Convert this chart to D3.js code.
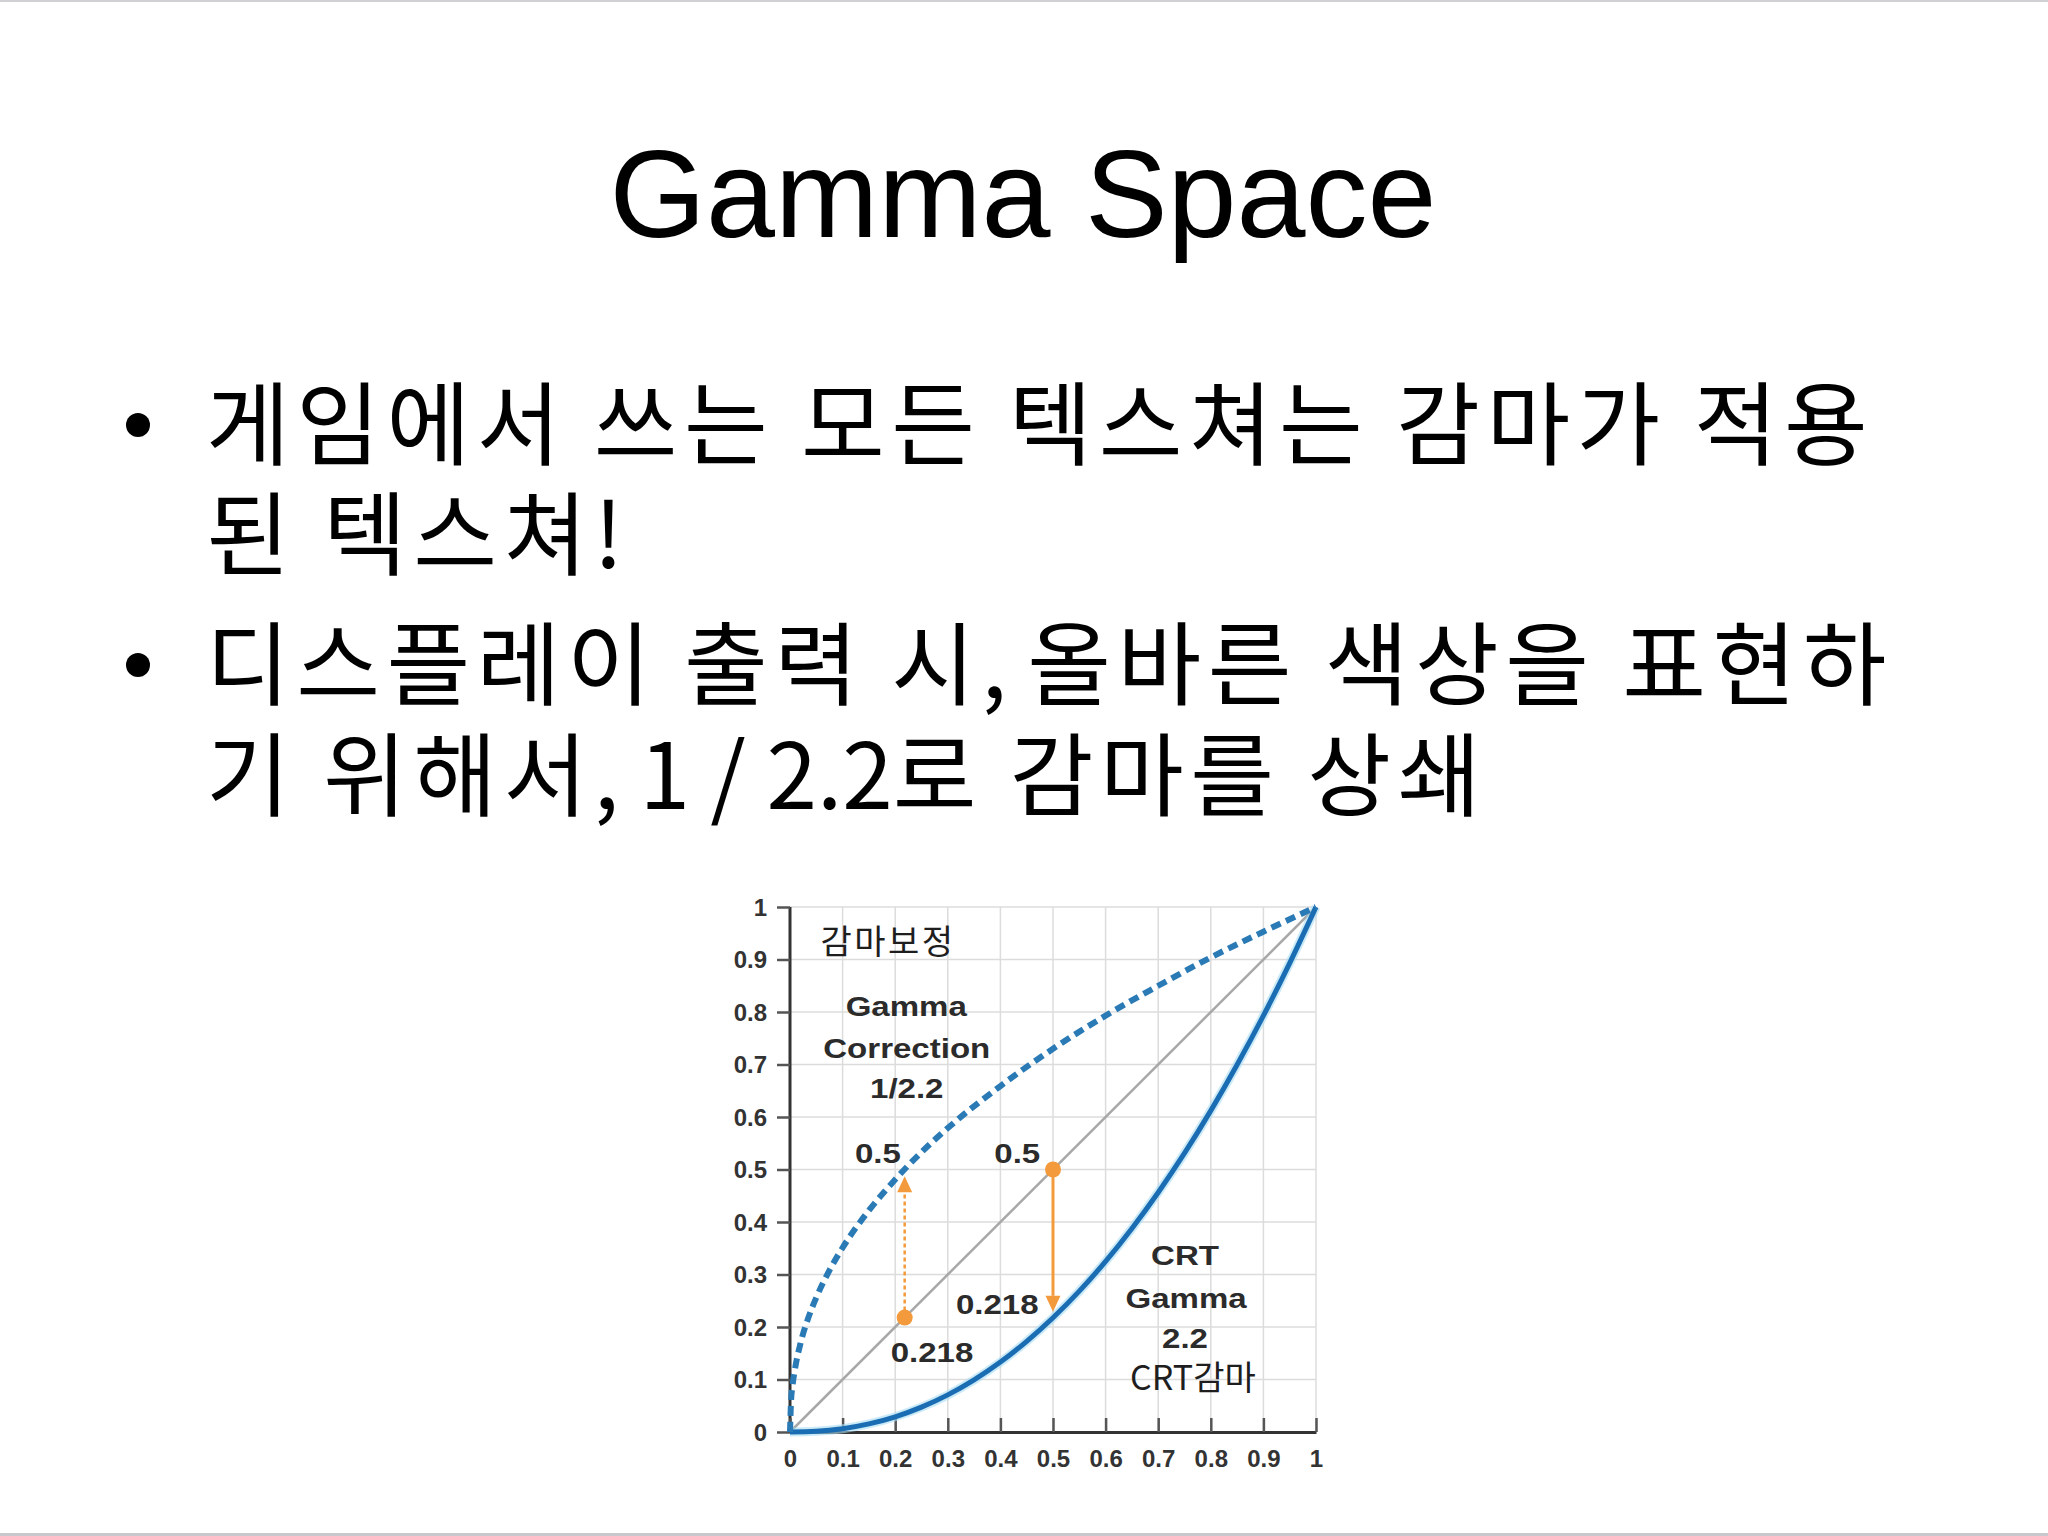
<!DOCTYPE html>
<html>
<head>
<meta charset="utf-8">
<script src="https://cdn.jsdelivr.net/npm/d3@7"></script>
<style>
  body { margin: 0; background: #fff; }
  svg { display: block; }
</style>
</head>
<body>
<svg id="slide" width="2048" height="1536"></svg>
<script>
// 슬라이드 텍스트
let titleText = 'Gamma Space';
let bulletLines = [
    ['게임에서 쓰는 모든 텍스쳐는 감마가 적용', '된 텍스쳐!'],
    ['디스플레이 출력 시, 올바른 색상을 표현하', '기 위해서, 1 / 2.2로 감마를 상쇄']
];

// 축 눈금
let tickValues = [0, 0.1, 0.2, 0.3, 0.4, 0.5, 0.6, 0.7, 0.8, 0.9, 1];
let tickLabels = ['0', '0.1', '0.2', '0.3', '0.4', '0.5', '0.6', '0.7', '0.8', '0.9', '1'];

// CRT 감마 곡선 (실선)
let crtX = [0, 0.05, 0.1, 0.15, 0.2, 0.25, 0.3, 0.35, 0.4, 0.45, 0.5, 0.55, 0.6, 0.65, 0.7, 0.75, 0.8, 0.85, 0.9, 0.95, 1];
let crtY = [0, 0.0014, 0.0063, 0.0154, 0.029, 0.0474, 0.0707, 0.0993, 0.1332, 0.1727, 0.2176, 0.2683, 0.325, 0.3878, 0.4563, 0.531, 0.6121, 0.6995, 0.793, 0.8932, 1];

// 감마 보정 곡선 (점선)
let corrX = [0, 0.002, 0.005, 0.01, 0.02, 0.035, 0.05, 0.075, 0.1, 0.15, 0.2, 0.25, 0.3, 0.4, 0.5, 0.6, 0.7, 0.8, 0.9, 1];
let corrY = [0, 0.059, 0.09, 0.123, 0.169, 0.218, 0.256, 0.308, 0.351, 0.422, 0.481, 0.533, 0.579, 0.659, 0.73, 0.793, 0.85, 0.904, 0.953, 1];

// 선형 기준선
let linearX = [0, 1];
let linearY = [0, 1];

// 주황색 점과 화살표
let dotX = [0.218, 0.5];
let dotY = [0.218, 0.5];
let arrowX = [0.218, 0.5];
let arrowFrom = [0.218, 0.5];
let arrowTo = [0.487, 0.229];
let arrowDashed = [true, false];

// 그래프 안의 라벨
let boldLabels = ['Gamma', 'Correction', '1/2.2', '0.5', '0.5', '0.218', '0.218', 'CRT', 'Gamma', '2.2'];
let boldLabelX = [0.221, 0.222, 0.222, 0.167, 0.432, 0.394, 0.27, 0.751, 0.753, 0.751];
let boldLabelY = [0.792, 0.712, 0.636, 0.512, 0.512, 0.225, 0.133, 0.318, 0.236, 0.16];
let koLabels = ['감마보정', 'CRT감마'];
let koLabelX = [0.058, 0.766];
let koLabelY = [0.91, 0.08];
let koLabelAnchor = ['start', 'middle'];

let svg = d3.select('#slide');

// 위아래 회색 테두리
svg.append('rect').attr('x', 0).attr('y', 0).attr('width', 2048).attr('height', 2).attr('fill', '#d0d0d4');
svg.append('rect').attr('x', 0).attr('y', 1533).attr('width', 2048).attr('height', 3).attr('fill', '#c8c8cc');

// 제목
svg.append('text')
    .attr('x', 1023)
    .attr('y', 237)
    .attr('text-anchor', 'middle')
    .attr('font-family', 'Liberation Sans, Arial, sans-serif')
    .attr('font-size', 124)
    .attr('fill', '#000')
    .text(titleText);

// 글머리 기호와 본문
// 한글 구간만 자간을 넓히고 숫자/문장부호 구간은 그대로 둔다
function splitRuns(s) {
    return s.split(/([,!\/0-9.][,!\/0-9. ]*)/).filter(d => d.length > 0);
}
let lineBase = [[458, 568], [698, 809]];
let body = svg.append('g');
bulletLines.forEach((lines, i) => {
    body.append('circle')
        .attr('cx', 138)
        .attr('cy', lineBase[i][0] - 33)
        .attr('r', 12)
        .attr('fill', '#000');
    let texts = body.selectAll(null).data(lines).enter()
        .append('text')
        .attr('x', 206)
        .attr('y', (d, j) => lineBase[i][j])
        .attr('font-family', 'Noto Sans CJK KR, sans-serif')
        .attr('font-size', 91)
        .attr('fill', '#000');
    texts.selectAll('tspan').data(d => splitRuns(d)).enter()
        .append('tspan')
        .attr('letter-spacing', d => /[가-힣]/.test(d) ? 6.5 : 0)
        .text(d => d);
});

// 그래프 영역
let x = d3.scaleLinear().domain([0, 1]).range([790, 1316]);
let y = d3.scaleLinear().domain([0, 1]).range([1432, 907]);
let chart = svg.append('g');

// 격자
chart.append('g').selectAll('line').data(tickValues.slice(1)).enter()
    .append('line')
    .attr('x1', d => x(d)).attr('x2', d => x(d))
    .attr('y1', y(0)).attr('y2', y(1))
    .attr('stroke', '#dcdcdc')
    .attr('stroke-width', 1.5);
chart.append('g').selectAll('line').data(tickValues.slice(1)).enter()
    .append('line')
    .attr('x1', x(0)).attr('x2', x(1))
    .attr('y1', d => y(d)).attr('y2', d => y(d))
    .attr('stroke', '#dcdcdc')
    .attr('stroke-width', 1.5);

// 축
let yAxis = d3.axisLeft(y).tickValues(tickValues).tickFormat((d, i) => tickLabels[i]).tickSize(13).tickPadding(10);
let xAxis = d3.axisBottom(x).tickValues(tickValues).tickFormat((d, i) => tickLabels[i]).tickSizeInner(-14).tickSizeOuter(0).tickPadding(28);

let gy = chart.append('g').attr('transform', `translate(${x(0)},0)`).call(yAxis);
let gx = chart.append('g').attr('transform', `translate(0,${y(0)})`).call(xAxis);
[gx, gy].forEach(g => {
    g.select('.domain').attr('stroke', '#333').attr('stroke-width', 3);
    g.selectAll('.tick line').attr('stroke', '#555').attr('stroke-width', 2.5);
    g.selectAll('.tick text')
        .attr('font-family', 'Liberation Sans, Arial, sans-serif')
        .attr('font-weight', 'bold')
        .attr('font-size', 24)
        .attr('fill', '#333');
});
gy.select('.domain').attr('d', `M0,${y(1)}H0V${y(0)}`);
gy.selectAll('.tick text').attr('dy', '0.34em');
gx.selectAll('.tick text').attr('dy', '0.3em');

// 곡선
let line = d3.line()
    .x(d => x(d[0]))
    .y(d => y(d[1]))
    .curve(d3.curveMonotoneX);

chart.append('path')
    .attr('d', line(d3.zip(linearX, linearY)))
    .attr('fill', 'none')
    .attr('stroke', '#a8a8a8')
    .attr('stroke-width', 2.5);

let crtData = d3.zip(crtX, crtY);
let corrData = d3.zip(corrX, corrY);

chart.append('path')
    .attr('d', line(crtData))
    .attr('fill', 'none')
    .attr('stroke', '#a9dcf4')
    .attr('stroke-width', 9)
    .attr('opacity', 0.6);
chart.append('path')
    .attr('d', line(crtData))
    .attr('fill', 'none')
    .attr('stroke', '#1b6db3')
    .attr('stroke-width', 5);

chart.append('path')
    .attr('d', line(corrData))
    .attr('fill', 'none')
    .attr('stroke', '#2a7ab6')
    .attr('stroke-width', 6)
    .attr('stroke-dasharray', '10,6');

// 화살표
let orange = '#f39a3c';
let arrows = arrowX.map((d, i) => ({ x: d, from: arrowFrom[i], to: arrowTo[i], dashed: arrowDashed[i] }));
let headLen = 16, headHalf = 7.5;
let ag = chart.append('g');
ag.selectAll('line').data(arrows).enter()
    .append('line')
    .attr('x1', d => x(d.x)).attr('x2', d => x(d.x))
    .attr('y1', d => y(d.from))
    .attr('y2', d => y(d.to) + (d.to > d.from ? headLen : -headLen))
    .attr('stroke', orange)
    .attr('stroke-width', d => d.dashed ? 2.5 : 3)
    .attr('stroke-dasharray', d => d.dashed ? '4,3' : null);
ag.selectAll('path').data(arrows).enter()
    .append('path')
    .attr('d', d => {
        let tx = x(d.x), ty = y(d.to);
        let by = ty + (d.to > d.from ? headLen : -headLen);
        return `M${tx},${ty}L${tx - headHalf},${by}L${tx + headHalf},${by}Z`;
    })
    .attr('fill', orange);

chart.append('g').selectAll('circle').data(d3.zip(dotX, dotY)).enter()
    .append('circle')
    .attr('cx', d => x(d[0]))
    .attr('cy', d => y(d[1]))
    .attr('r', 8)
    .attr('fill', orange);

// 라벨
chart.append('g').selectAll('text').data(boldLabels).enter()
    .append('text')
    .attr('transform', (d, i) => `translate(${x(boldLabelX[i])},${y(boldLabelY[i])}) scale(1.18,1)`)
    .attr('text-anchor', 'middle')
    .attr('font-family', 'Liberation Sans, Arial, sans-serif')
    .attr('font-weight', 'bold')
    .attr('font-size', 28)
    .attr('fill', '#2b2b2b')
    .text(d => d);

chart.append('g').selectAll('text').data(koLabels).enter()
    .append('text')
    .attr('x', (d, i) => x(koLabelX[i]))
    .attr('y', (d, i) => y(koLabelY[i]))
    .attr('text-anchor', (d, i) => koLabelAnchor[i])
    .attr('font-family', 'Noto Sans CJK KR, sans-serif')
    .attr('font-size', 34)
    .attr('letter-spacing', (d, i) => i === 0 ? 2.5 : 0)
    .attr('fill', '#1e1e1e')
    .text(d => d);
</script>
</body>
</html>
